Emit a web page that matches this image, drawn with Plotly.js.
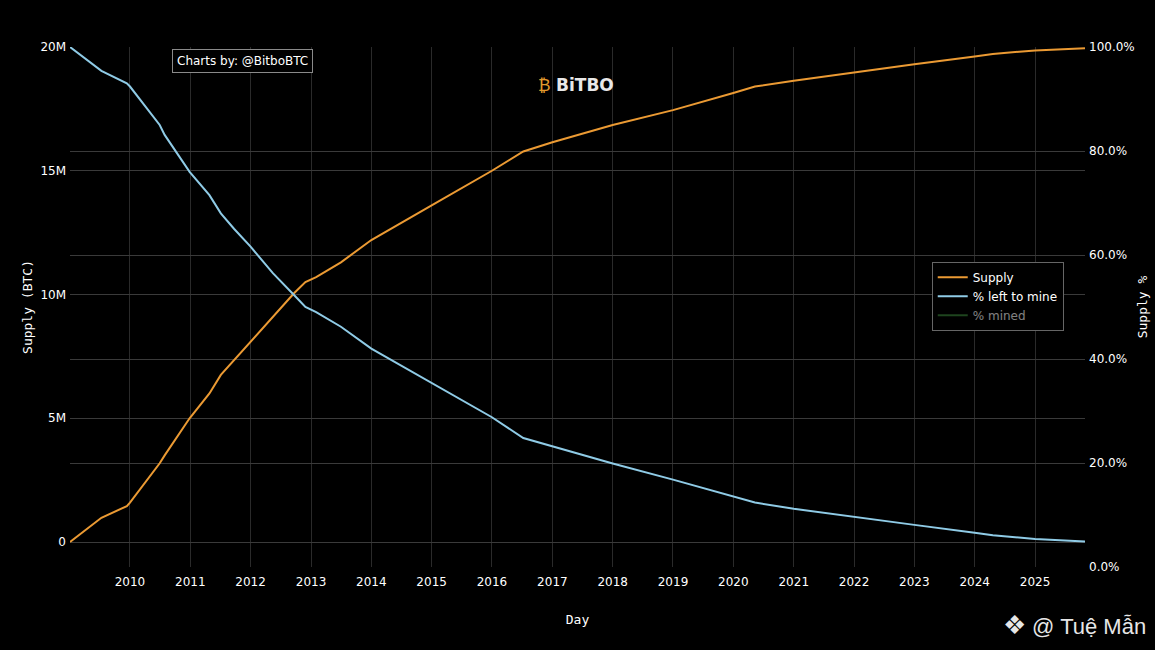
<!DOCTYPE html>
<html>
<head>
<meta charset="utf-8">
<script src="https://cdn.plot.ly/plotly-3.0.1.min.js"></script>
<style>html,body{margin:0;padding:0;background:#000;}#chart{width:1155px;height:650px;}</style>
</head>
<body>
<div id="chart"></div>
<script>
const days = [
  "2009-01-03","2009-05-25","2009-07-12","2009-12-13","2010-01-01","2010-06-30","2010-07-30",
  "2010-12-28","2011-04-27","2011-07-05","2011-09-24","2012-01-01","2012-05-15","2012-09-20",
  "2012-11-28","2013-02-01","2013-07-01","2014-01-01","2015-01-01","2016-01-01",
  "2016-07-09","2017-01-01","2018-01-01","2019-01-01","2020-01-01",
  "2020-05-11","2021-01-01","2022-01-01","2023-01-01","2024-01-01","2024-04-20","2025-01-01",
  "2025-10-30"
];
// Supply in BTC (left axis)
const supply = [
  0, 750000, 980000, 1450000, 1590000, 3180000, 3500000,
  5000000, 6000000, 6750000, 7350000, 8100000, 9100000, 10050000,
  10500000, 10700000, 11300000, 12200000, 13600000, 15000000,
  15780000, 16150000, 16850000, 17450000, 18140000,
  18400000, 18640000, 18980000, 19300000, 19620000, 19720000, 19860000,
  19950000
];
// % left to mine (right axis)
const pctLeft = [
  100, 96.5, 95.4, 93.0, 92.4, 85.0, 83.1,
  76.0, 71.5, 68.0, 65.0, 61.6, 56.5, 52.3,
  50.0, 49.0, 46.2, 42.0, 35.4, 28.8,
  24.8, 23.2, 19.9, 16.8, 13.6,
  12.4, 11.2, 9.6, 8.1, 6.6, 6.1, 5.4,
  4.9
];
// % mined (hidden in legend)
const pctMined = [
  0, 3.5, 4.6, 7.0, 7.6, 15.0, 16.9,
  24.0, 28.5, 32.0, 35.0, 38.4, 43.5, 47.7,
  50.0, 51.0, 53.8, 58.0, 64.6, 71.2,
  75.2, 76.8, 80.1, 83.2, 86.4,
  87.6, 88.8, 90.4, 91.9, 93.4, 93.9, 94.6,
  95.1
];
const leftTicks = [0, 5000000, 10000000, 15000000, 20000000];
const leftTickText = ["0", "5M", "10M", "15M", "20M"];
const rightTicks = [0, 20, 40, 60, 80, 100];
const rightTickText = ["0.0%", "20.0%", "40.0%", "60.0%", "80.0%", "100.0%"];
const yearTicks = ["2010-01-01","2011-01-01","2012-01-01","2013-01-01","2014-01-01","2015-01-01","2016-01-01","2017-01-01","2018-01-01","2019-01-01","2020-01-01","2021-01-01","2022-01-01","2023-01-01","2024-01-01","2025-01-01"];
const yearText = ["2010","2011","2012","2013","2014","2015","2016","2017","2018","2019","2020","2021","2022","2023","2024","2025"];

const traces = [
  {x: days, y: supply, name: "Supply", type: "scatter", mode: "lines",
   line: {color: "#eb9a33", width: 2}, yaxis: "y"},
  {x: days, y: pctLeft, name: "% left to mine", type: "scatter", mode: "lines",
   line: {color: "#8fcbe6", width: 2}, yaxis: "y2"},
  {x: days, y: pctMined, name: "% mined", type: "scatter", mode: "lines",
   line: {color: "#3c8a3c", width: 2}, yaxis: "y2", visible: "legendonly"}
];

const tickFont = {family: "DejaVu Sans, Verdana, sans-serif", size: 12, color: "#ffffff"};
const titleFont = {family: "DejaVu Sans Mono, monospace", size: 13, color: "#ffffff"};

const layout = {
  width: 1155, height: 650,
  paper_bgcolor: "#000000", plot_bgcolor: "#000000",
  margin: {l: 70, r: 70, t: 47, b: 83},
  showlegend: true,
  legend: {x: 0.849, y: 0.587, xanchor: "left", yanchor: "top",
           bgcolor: "#000000", bordercolor: "#666666", borderwidth: 1,
           font: {family: "DejaVu Sans, Verdana, sans-serif", size: 12, color: "#ffffff"}},
  xaxis: {type: "date", range: ["2009-01-03", "2025-10-30"],
          tickvals: yearTicks, ticktext: yearText, tickfont: tickFont,
          showgrid: true, gridcolor: "#2a2a2a", zeroline: false, showline: false,
          ticks: "", ticklabelstandoff: 6,
          title: {text: "Day", font: titleFont, standoff: 26}},
  yaxis: {range: [-1010100, 20000000], tickvals: leftTicks, ticktext: leftTickText,
          tickfont: tickFont, showgrid: true, gridcolor: "#3a3a3a", zeroline: false,
          showline: false, ticks: "", ticklabelstandoff: 3,
          title: {text: "Supply (BTC)", font: titleFont, standoff: 4}},
  yaxis2: {overlaying: "y", side: "right", range: [0, 100], tickvals: rightTicks,
           ticktext: rightTickText, tickfont: tickFont, showgrid: true, gridcolor: "#3a3a3a",
           zeroline: false, showline: false, ticks: "", ticklabelstandoff: 3,
           title: {text: "Supply %", font: titleFont, standoff: 4}},
  annotations: [
    {xref: "paper", yref: "paper", x: 0.1704, y: 0.974, xanchor: "center", yanchor: "middle",
     text: "Charts by: @BitboBTC", showarrow: false,
     font: {family: "DejaVu Sans, Verdana, sans-serif", size: 12, color: "#ffffff"},
     bgcolor: "#000000", bordercolor: "#8a8a8a", borderwidth: 1, borderpad: 4},
    {xref: "paper", yref: "paper", x: 0.4985, y: 0.927, xanchor: "center", yanchor: "middle",
     text: "<span style='color:#e39a2d'>₿</span> <b>BiTBO</b>", showarrow: false,
     font: {family: "DejaVu Sans, sans-serif", size: 17, color: "#e8e8e8"}},
    {xref: "paper", yref: "paper", x: 1.062, y: -0.1115, xanchor: "right", yanchor: "middle",
     text: "<span style='font-size:26px'>❖</span> @ Tuệ Mẫn", showarrow: false,
     font: {family: "Liberation Sans, Arial, sans-serif", size: 22, color: "#e6e6e6"}}
  ]
};

Plotly.newPlot("chart", traces, layout, {displayModeBar: false, responsive: false});
</script>
</body>
</html>
